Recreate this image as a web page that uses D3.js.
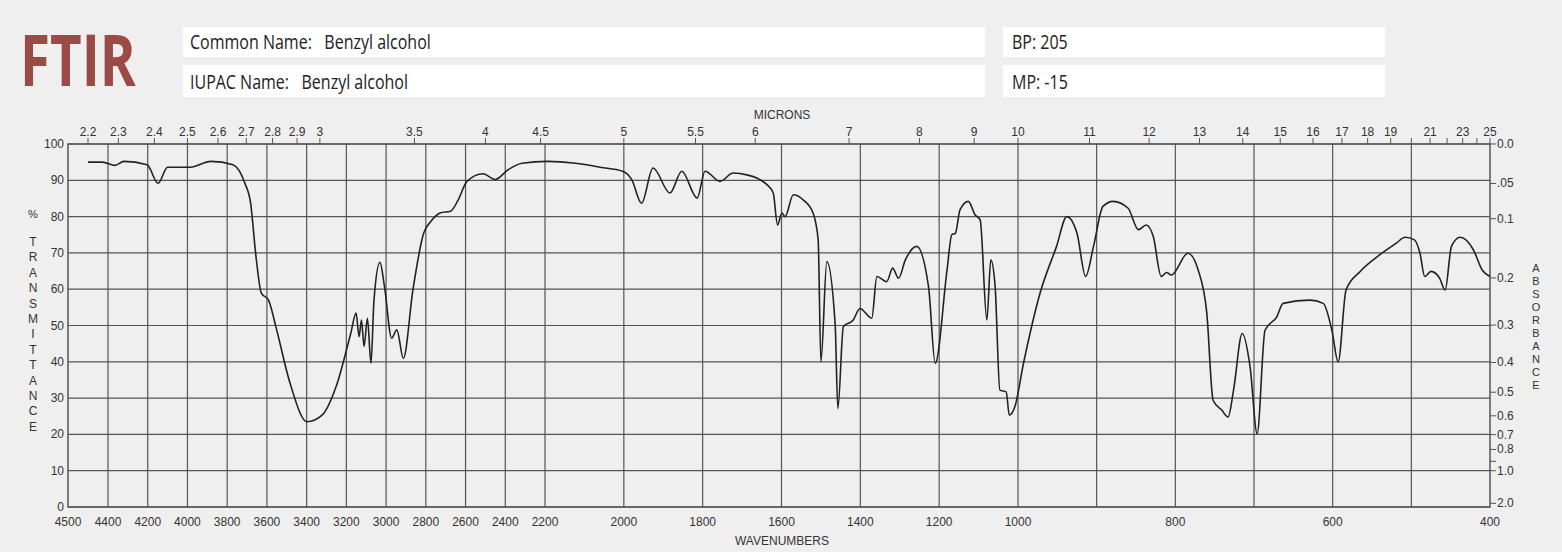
<!DOCTYPE html>
<html><head><meta charset="utf-8">
<script src="https://cdn.jsdelivr.net/npm/d3@7"></script>
<style>body{margin:0;background:#efefef;}svg{display:block;}</style>
</head><body><svg id="c" width="1562" height="552"></svg>
<script>
const title = "FTIR";
const infoLeft = ["Common Name:   Benzyl alcohol", "IUPAC Name:   Benzyl alcohol"];
const infoRight = ["BP: 205", "MP: -15"];
const wavenumberLabels = [4500,4400,4200,4000,3800,3600,3400,3200,3000,2800,2600,2400,2200,2000,1800,1600,1400,1200,1000,800,600,400];
const wavenumberGrid = [4400,4200,4000,3800,3600,3400,3200,3000,2800,2600,2400,2200,2000,1800,1600,1400,1200,1000,900,800,700,600,500];
const micronLabels = [2.2,2.3,2.4,2.5,2.6,2.7,2.8,2.9,3,3.5,4,4.5,5,5.5,6,7,8,9,10,11,12,13,14,15,16,17,18,19,21,23,25];
const micronMinor = [20,22,24];
const transTicks = [0,10,20,30,40,50,60,70,80,90,100];
const absLabels = ["0.0",".05","0.1","0.2","0.3","0.4","0.5","0.6","0.7","0.8","1.0","2.0"];
const absValues = [0,0.05,0.1,0.2,0.3,0.4,0.5,0.6,0.7,0.8,1.0,2.0];
const absMinor = [0.9];
const wavenumbers = [4450,4414,4365,4320,4203,4148,4100,3987,3882,3771,3711,3682,3655,3628,3592,3555,3483,3398,3322,3252,3178,3151,3136,3124,3111,3094,3076,3061,3031,3008,2972,2946,2913,2865,2811,2774,2728,2675,2637,2593,2512,2451,2386,2316,2195,2122,2060,2003,1980,1955,1926,1883,1853,1814,1794,1756,1723,1688,1637,1621,1610,1599,1591,1570,1545,1520,1507,1500,1485,1464,1457,1443,1418,1401,1371,1358,1333,1318,1303,1286,1257,1227,1210,1180,1168,1159,1147,1126,1109,1096,1079,1069,1058,1046,1030,1022,1008,993,972,951,938,925,914,904,892,879,860,847,837,828,818,811,805,784,771,760,752,741,733,726,715,705,696,686,671,663,629,612,601,593,583,565,540,519,508,496,489,483,475,464,457,449,438,421,410,400];
const transmittance = [95.0,95.0,94.1,95.2,94.3,89.2,93.6,93.6,95.2,94.3,89.2,83.7,69,58.9,57,49.7,34,23.5,25.3,33.1,47.8,53.4,46.9,51.5,44.2,52,39.6,57,67.4,60.7,46.5,48.8,40.9,59.8,75.4,78.7,81,81.5,84.6,89.7,91.8,90.2,92.9,94.7,95.2,94.7,93.6,92.5,90.2,83.7,93.4,86.5,92.5,85.1,92.5,89.7,92,91.5,88.8,86.5,77.7,81,80,86,84.6,81,73.6,40,67.6,50.6,27.1,49.7,51.5,54.7,52,63.5,62.1,65.8,63,68,71.8,60.7,39.6,65.3,75,75.4,81.9,84.2,80.5,79.1,51.5,68.1,60.7,32.2,31.7,25.3,27.6,39.6,58.9,71.8,80,75.4,63.5,71.8,82.8,84.2,82.3,76.4,77.7,74.5,63.5,64.6,63.9,69.9,65.3,53.4,29.4,26.7,24.8,32.2,47.8,38.6,20.2,48.7,52.4,56.1,57,56.1,48.7,40,59.8,64.9,69.5,72.7,74.3,73.6,69.9,63.5,64.9,63,59.8,71.8,74.3,70.8,65.3,63.5];

const svg = d3.select("#c");
const L=68,R=1490,T=144,B=507;
const x = d3.scaleLinear().domain([4500,4400,2200,1000,400]).range([L,108,545,1018,R]);
const y = d3.scaleLinear().domain([0,100]).range([B,T]);
const gray="#555", ink="#333";
const font="'Liberation Sans', Arial, sans-serif";

svg.append("text").attr("x",20).attr("y",86).attr("font-family","'Open Sans'").attr("font-weight",700)
  .attr("font-size",72).attr("fill","#9b4a45").attr("transform","translate(20,86) scale(0.76,1) translate(-20,-86)").text(title);
const rows=[[27,57],[65,97]];
rows.forEach((r,i)=>{
  svg.append("rect").attr("x",183).attr("y",r[0]).attr("width",802).attr("height",r[1]-r[0]).attr("fill","#fff");
  svg.append("rect").attr("x",1003).attr("y",r[0]).attr("width",382).attr("height",r[1]-r[0]).attr("fill","#fff");
  svg.append("text").attr("x",190).attr("y",r[1]-8).attr("font-family","'Open Sans'").attr("font-size",20).attr("fill","#222")
    .attr("transform",`translate(190,${r[1]-8}) scale(0.8,1) translate(-190,${-(r[1]-8)})`).attr("xml:space","preserve").text(infoLeft[i]);
  svg.append("text").attr("x",1012).attr("y",r[1]-8).attr("font-family","'Open Sans'").attr("font-size",20).attr("fill","#222")
    .attr("transform",`translate(1012,${r[1]-8}) scale(0.8,1) translate(-1012,${-(r[1]-8)})`).text(infoRight[i]);
});

const g=svg.append("g");
g.selectAll(".h").data(transTicks).join("line").attr("x1",L).attr("x2",R).attr("y1",d=>y(d)).attr("y2",d=>y(d)).attr("stroke",gray).attr("stroke-width",1.2);
g.selectAll(".v").data(wavenumberGrid).join("line").attr("x1",d=>x(d)).attr("x2",d=>x(d)).attr("y1",T).attr("y2",B).attr("stroke",gray).attr("stroke-width",1.2);
g.append("rect").attr("x",L).attr("y",T).attr("width",R-L).attr("height",B-T).attr("fill","none").attr("stroke",gray).attr("stroke-width",1.5);

svg.selectAll(".ly").data(transTicks).join("text").attr("x",L-4).attr("y",d=>y(d)+4).attr("text-anchor","end")
  .attr("font-family",font).attr("font-size",12).attr("fill",ink).text(d=>d);
svg.append("text").attr("x",33).attr("y",218).attr("text-anchor","middle").attr("font-family",font).attr("font-size",11).attr("fill",ink).text("%");
"TRANSMITTANCE".split("").forEach((c,i)=>svg.append("text").attr("x",33).attr("y",246+i*15.4).attr("text-anchor","middle").attr("font-family",font).attr("font-size",12).attr("fill",ink).text(c));

svg.selectAll(".bx").data(wavenumberLabels).join("text").attr("x",d=>x(d)).attr("y",B+19).attr("text-anchor","middle")
  .attr("font-family",font).attr("font-size",12).attr("fill",ink).text(d=>d);
svg.append("text").attr("x",782).attr("y",545).attr("text-anchor","middle").attr("font-family",font).attr("font-size",12).attr("fill",ink).text("WAVENUMBERS");

const mx=m=>Math.max(x(10000/m), x(4450));
svg.selectAll(".mt").data(micronLabels.concat(micronMinor)).join("line").attr("x1",d=>mx(d)).attr("x2",d=>mx(d)).attr("y1",T).attr("y2",T-6).attr("stroke",gray);
svg.selectAll(".ml").data(micronLabels).join("text").attr("x",d=>mx(d)).attr("y",T-8).attr("text-anchor","middle")
  .attr("font-family",font).attr("font-size",12).attr("fill",ink).text(d=>d);
svg.append("text").attr("x",782).attr("y",119).attr("text-anchor","middle").attr("font-family",font).attr("font-size",12).attr("fill",ink).text("MICRONS");

const ay=a=>y(100*Math.pow(10,-a));
svg.selectAll(".at").data(absValues.concat(absMinor)).join("line").attr("x1",R).attr("x2",R+6).attr("y1",d=>ay(d)).attr("y2",d=>ay(d)).attr("stroke",gray);
svg.selectAll(".al").data(absValues).join("text").attr("x",R+7).attr("y",(d)=>ay(d)+4)
  .attr("font-family",font).attr("font-size",12).attr("fill",ink).text((d,i)=>absLabels[i]);
"ABSORBANCE".split("").forEach((c,i)=>svg.append("text").attr("x",1536).attr("y",272+i*13).attr("text-anchor","middle").attr("font-family",font).attr("font-size",11).attr("fill",ink).text(c));

const pts=wavenumbers.map((w,i)=>[w,transmittance[i]]);
svg.append("path").datum(pts).attr("fill","none").attr("stroke","#222").attr("stroke-width",1.6)
  .attr("d",d3.line().x(d=>x(d[0])).y(d=>y(d[1])).curve(d3.curveMonotoneX));
</script></body></html>
